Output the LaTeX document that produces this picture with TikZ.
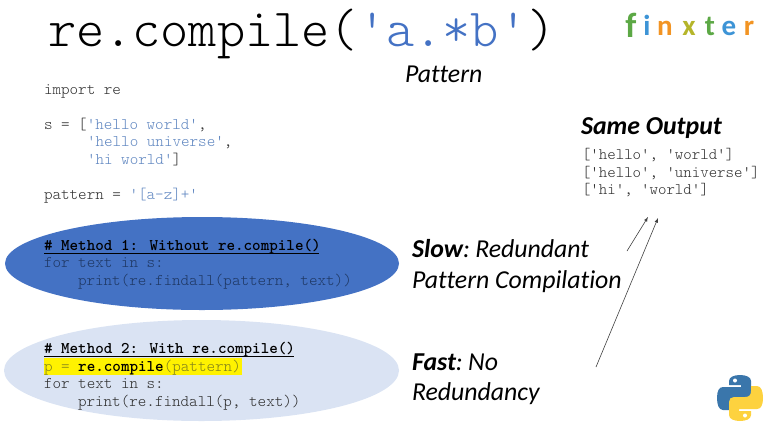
\documentclass[tikz,border=0pt]{standalone}
\usetikzlibrary{shapes.geometric}
\usepackage{fontspec}
\setmainfont{Carlito}[Ligatures=NoCommon]
\newfontfamily\codefont{Latin Modern Mono Light}
\definecolor{codegrey}{HTML}{2E2E2E}
\definecolor{strblue}{HTML}{5F86C0}
\definecolor{darkcode}{HTML}{1F3864}
\definecolor{titleblue}{HTML}{4472C4}
\definecolor{ellA}{HTML}{4472C4}
\definecolor{ellB}{HTML}{DAE3F3}
\definecolor{fgreen}{HTML}{5CA845}
\definecolor{fblue}{HTML}{3D94D6}
\definecolor{forange}{HTML}{F29423}
\definecolor{folive}{HTML}{B5B52A}
\definecolor{pyblue}{HTML}{3A76AB}
\definecolor{pyyellow}{HTML}{FDD23F}
\tikzset{
  txtbox/.style={anchor=base west,inner sep=0pt,outer sep=0pt},
  codeline/.style={txtbox,font=\codefont\fontsize{16.3}{17}\selectfont,text=codegrey},
  boldline/.style={txtbox,font=\codefont\bfseries\fontsize{16.3}{17}\selectfont,text=black},
  outline/.style={txtbox,font=\codefont\fontsize{16.1}{17}\selectfont,text=codegrey},
  notetext/.style={txtbox,font=\fontsize{25.8}{30}\selectfont\itshape,text=black},
  logotext/.style={anchor=base,inner sep=0pt,font=\fontsize{29}{36}\selectfont\bfseries},
  arrowline/.style={-latex,draw=black!75,line width=0.6pt}
}
\newcommand{\snake}{(729,381) .. controls (729,377) and (734,375) .. (740,375) .. controls (746,375) and (751,377) .. (751,381) -- (751,394) .. controls (751,397) and (749,399) .. (746,399) -- (735,399) .. controls (731,399) and (729,401) .. (729,405) -- (729,410) -- (723,410) .. controls (719,410) and (717,405) .. (717,398) .. controls (717,391) and (719,387) .. (723,387) -- (741,387) -- (741,385) -- (729,385) -- cycle}
\begin{document}
\begin{tikzpicture}[x=1pt,y=-1pt]
\useasboundingbox (0,0) rectangle (768,432);
% title
\node[txtbox,font=\codefont\fontsize{53.7}{56}\selectfont,text=black] (title) at (48,46) {re.compile(\textcolor{titleblue}{'a.*b'})};
% logo
\node[logotext,text=fgreen,font=\fontsize{35}{36}\selectfont\bfseries] (lf) at (631,37) {f};
\node[logotext,text=fblue] (li) at (647,35.5) {i};
\node[logotext,text=forange] (ln) at (665,35.5) {n};
\node[logotext,text=folive] (lx) at (689,35.5) {x};
\node[logotext,text=fgreen] (lt) at (710,35.5) {t};
\node[logotext,text=fblue] (le) at (729,35.5) {e};
\node[logotext,text=forange] (lr) at (749,35.5) {r};
% upper code
\node[codeline] (c1) at (44,94) {import re};
\node[codeline] (c2) at (44,129) {s = [\textcolor{strblue}{'hello world'},};
\node[codeline] (c3) at (87,146.5) {\textcolor{strblue}{'hello universe'},};
\node[codeline] (c4) at (87,164) {\textcolor{strblue}{'hi world'}]};
\node[codeline] (c5) at (44,199) {pattern = \textcolor{strblue}{'[a-z]+'}};
\node[notetext] (pat) at (405,82) {Pattern};
% ellipses
\node[ellipse,fill=ellA,minimum width=394pt,minimum height=93pt,inner sep=0pt] (e1) at (202,263.5) {};
\node[ellipse,fill=ellB,minimum width=395pt,minimum height=101pt,inner sep=0pt] (e2) at (201.5,370.5) {};
% method 1
\node[boldline] (m1) at (44,250) {\#{} Method 1: Without re.compile()};
\draw[black,line width=0.9pt] (44,253) -- (319,253);
\node[codeline,text=darkcode] (m1a) at (44,267) {for text in s:};
\node[codeline,text=darkcode] (m1b) at (78,285) {print(re.findall(pattern, text))};
% method 2
\fill[yellow] (44,358) rectangle (242,374.5);
\node[boldline] (m2) at (44,353.5) {\#{} Method 2: With re.compile()};
\draw[black,line width=0.9pt] (44,356.5) -- (294,356.5);
\node[codeline,text=codegrey!60!yellow] (m2a) at (44,371) {p = \textcolor{black}{\bfseries re.compile}(pattern)};
\node[codeline] (m2b) at (44,388.5) {for text in s:};
\node[codeline] (m2c) at (78,406) {print(re.findall(p, text))};
% notes
\node[notetext] (slow) at (412,257) {\textbf{Slow}:\hspace{-2.5pt} Redundant};
\node[notetext] (slow2) at (412,288) {Pattern Compilation};
\node[notetext] (fast) at (412,370) {\textbf{Fast}:\hspace{-2.5pt} No};
\node[notetext] (fast2) at (412,400) {Redundancy};
\node[notetext,font=\fontsize{25.8}{30}\selectfont\itshape\bfseries] (same) at (581,134) {Same Output};
% output
\node[outline] (o1) at (582,159) {['hello', 'world']};
\node[outline] (o2) at (582,177) {['hello', 'universe']};
\node[outline] (o3) at (582,194) {['hi', 'world']};
% arrows
\coordinate (a1s) at (627,251);
\coordinate (a1e) at (648,217);
\coordinate (a2s) at (596,367);
\coordinate (a2e) at (658,218);
\draw[arrowline] (a1s) -- (a1e);
\draw[arrowline] (a2s) -- (a2e);
% python logo
\fill[pyblue] \snake;
\fill[white] (735,380.5) circle (2pt);
\begin{scope}[rotate around={180:(740,398)}]
\fill[pyyellow] \snake;
\fill[white] (735,380.5) circle (2pt);
\end{scope}
\end{tikzpicture}
\end{document}
